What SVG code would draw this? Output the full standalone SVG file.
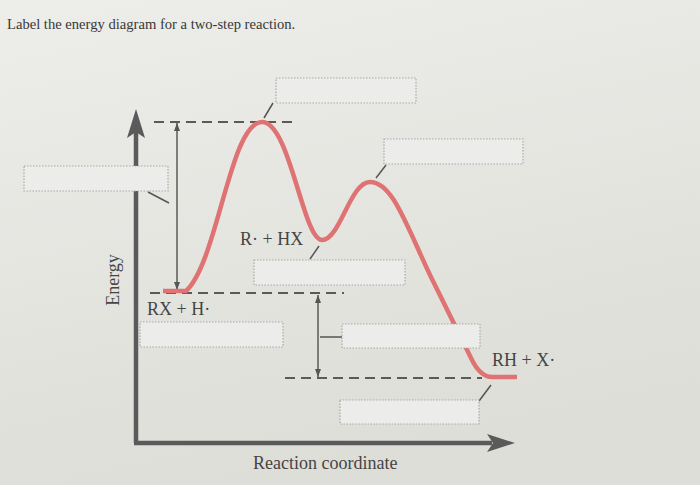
<svg xmlns="http://www.w3.org/2000/svg" width="700" height="485" viewBox="0 0 700 485">
<defs>
<linearGradient id="bg" x1="0" y1="0" x2="0.3" y2="1">
<stop offset="0" stop-color="#ededea"/>
<stop offset="1" stop-color="#deded8"/>
</linearGradient>
<marker id="ah" viewBox="0 0 10 10" refX="10" refY="5" markerWidth="8" markerHeight="6" orient="auto-start-reverse" markerUnits="userSpaceOnUse" preserveAspectRatio="none">
<path d="M0,0 L10,5 L0,10 Z" fill="#555"/>
</marker>
<style>
.t{font-family:"Liberation Serif","Times New Roman",serif;fill:#454543;font-size:18px}
.box{fill:#ecedea;stroke:#a9a9a6;stroke-width:1.2;stroke-dasharray:1.5 1.5}
.lead{stroke:#555;stroke-width:1.5;fill:none}
.dash{stroke:#5a5a58;stroke-width:2;stroke-dasharray:10 6;fill:none}
.axis{stroke:#5a5a5a;stroke-width:4.5;fill:none}
.arr{stroke:#5a5a5a;stroke-width:1.5;fill:none}
.curve{stroke:#df7272;stroke-width:4.5;fill:none;stroke-linejoin:round}
</style>
</defs>
<rect width="700" height="485" fill="url(#bg)"/>
<text x="7" y="29" class="t" style="font-size:14.6px;fill:#383836">Label the energy diagram for a two-step reaction.</text>

<g id="connectors">
<line class="dash" x1="154" y1="122" x2="293" y2="122"/>
<line class="dash" x1="150" y1="293" x2="344" y2="293"/>
<line class="dash" x1="285" y1="378" x2="482" y2="378"/>
<line class="arr" x1="177" y1="123" x2="177" y2="290" marker-start="url(#ah)" marker-end="url(#ah)"/>
<line class="arr" x1="318" y1="295" x2="318" y2="377" marker-start="url(#ah)" marker-end="url(#ah)"/>
<line class="lead" x1="320" y1="337" x2="342" y2="337"/>
<line class="lead" x1="273" y1="103" x2="264" y2="118"/>
<line class="lead" x1="386" y1="165" x2="376" y2="178"/>
<line class="lead" x1="148" y1="192" x2="169" y2="203"/>
<line class="lead" x1="310" y1="259" x2="319" y2="246"/>
<line class="lead" x1="479" y1="401" x2="491" y2="385"/>
</g>

<g id="curve">
<path class="curve" d="M163 291 L186 291 C218 262 230 122 262 122 C290 122 303 240 322 240 C340 240 350 182 370 182 C392 182 405 222 430 275 L471 358 Q480 377 492 377 L517 377"/>
</g>

<g id="axes">
<line class="axis" x1="136" y1="132" x2="136" y2="443"/>
<line class="axis" x1="134" y1="443" x2="492" y2="443"/>
<path d="M136 109 L145 138 L136 132 L127 138 Z" fill="#5a5a5a"/>
<path d="M515 443 L487 434 L493 443 L487 452 Z" fill="#5a5a5a"/>
</g>

<g id="box-ts1"><rect class="box" x="276" y="78" width="140" height="25"/></g>
<g id="box-ts2"><rect class="box" x="384" y="139" width="139" height="25"/></g>
<g id="box-ea1"><rect class="box" x="24" y="166" width="144" height="25"/></g>
<g id="box-int"><rect class="box" x="254" y="260" width="151" height="25"/></g>
<g id="box-react"><rect class="box" x="140" y="322" width="143" height="25"/></g>
<g id="box-dh"><rect class="box" x="342" y="324" width="138" height="24"/></g>
<g id="box-prod"><rect class="box" x="340" y="400" width="139" height="24"/></g>

<g id="label-int"><text class="t" x="240" y="245">R· + HX</text></g>
<g id="label-react"><text class="t" x="147" y="315">RX + H·</text></g>
<g id="label-prod"><text class="t" x="492" y="366">RH + X·</text></g>
<g id="label-energy"><text class="t" transform="translate(119 280) rotate(-90)" text-anchor="middle">Energy</text></g>
<g id="label-rc"><text class="t" x="253" y="469">Reaction coordinate</text></g>
</svg>
